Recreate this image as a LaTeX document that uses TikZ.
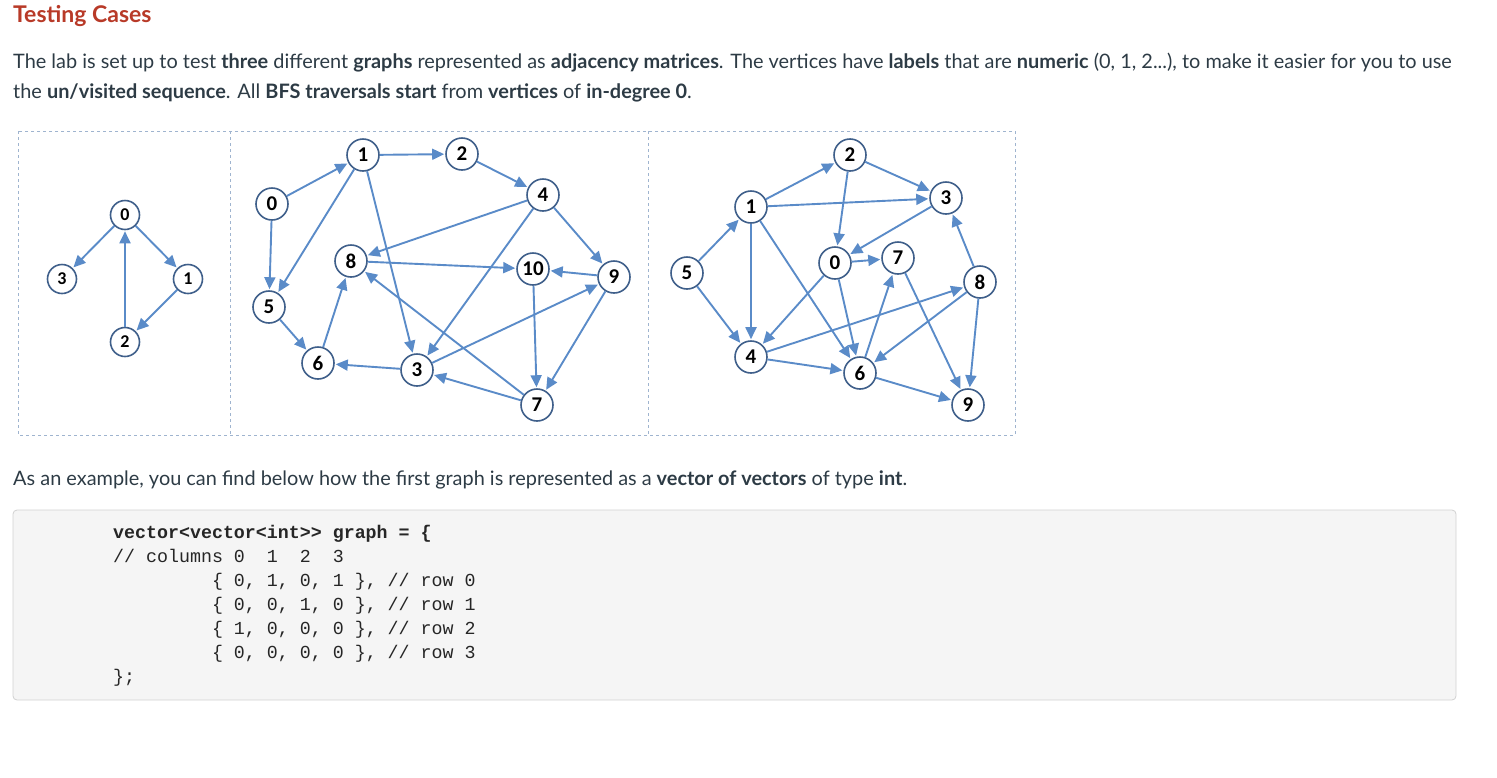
\documentclass[tikz,border=0pt]{standalone}
\usepackage{fontspec}
\setmainfont{Lato}
\newfontfamily\nodefont{Carlito}
\setmonofont{Liberation Mono}
\usetikzlibrary{arrows.meta}
\definecolor{titlered}{HTML}{B83A28}
\definecolor{txt}{HTML}{2D3B45}
\definecolor{ncol}{HTML}{3F5F8A}
\definecolor{ecol}{HTML}{5A8BC8}
\definecolor{framec}{HTML}{9FB4CF}
\begin{document}
\begin{tikzpicture}[x=1pt,y=-1pt,
  vtx/.style={circle,draw=ncol,line width=1.6pt,fill=white,minimum size=32pt,inner sep=0pt,font=\nodefont\bfseries\fontsize{21}{21}\selectfont,text=black},
  vtxs/.style={vtx,minimum size=29pt,font=\nodefont\bfseries\fontsize{18}{18}\selectfont},
  ed/.style={draw=ecol,line width=1.9pt,-{Triangle[length=12pt,width=11pt]},shorten >=1pt},
  body/.style={anchor=base west,inner sep=0pt,text=txt,font=\fontsize{19.9}{20}\selectfont},
  code/.style={anchor=base west,inner sep=0pt,text=black!85,font=\ttfamily\fontsize{18.3}{18}\selectfont}]
\useasboundingbox (0,0) rectangle (1497,777);
\node[anchor=base west,inner sep=0pt,text=titlered,font=\bfseries\fontsize{23}{23}\selectfont] (title) at (13,22) {Testing Cases};
\node[body] (l1) at (13,68) {The lab is set up to test \textbf{three} different \textbf{graphs} represented as \textbf{adjacency matrices}. The vertices have \textbf{labels} that are \textbf{numeric} (0, 1, 2...), to make it easier for you to use};
\node[body] (l2) at (13,98) {the \textbf{un/visited sequence}. All \textbf{BFS traversals start} from \textbf{vertices} of \textbf{in-degree 0}.};
% frame
\draw[framec,dashed,line width=0.8pt] (18,131) rectangle (1015,435);
\draw[framec,dashed,line width=0.8pt] (230,131) -- (230,435);
\draw[framec,dashed,line width=0.8pt] (648,131) -- (648,435);
% graph A
\node[vtxs] (a0) at (125,215) {0};
\node[vtxs] (a3) at (62,279) {3};
\node[vtxs] (a1) at (188,279) {1};
\node[vtxs] (a2) at (125,342) {2};
\draw[ed] (a0)--(a3); \draw[ed] (a0)--(a1); \draw[ed] (a1)--(a2); \draw[ed] (a2)--(a0);
% graph B
\node[vtx] (b0) at (272,204) {0};
\node[vtx] (b1) at (363,155) {1};
\node[vtx] (b2) at (462,154) {2};
\node[vtx] (b4) at (543,195) {4};
\node[vtx] (b8) at (351,261) {8};
\node[vtx] (b10) at (533,269) {10};
\node[vtx] (b9) at (614,277) {9};
\node[vtx] (b5) at (269,307) {5};
\node[vtx] (b6) at (318,363) {6};
\node[vtx] (b3) at (417,370) {3};
\node[vtx] (b7) at (537,405) {7};
\foreach \a/\b in {0/1,0/5,1/2,1/5,1/3,2/4,4/8,4/3,4/9,8/10,9/10,10/7,9/7,3/9,3/6,5/6,6/8,7/8,7/3}
  \draw[ed] (b\a)--(b\b);
% graph C
\node[vtx] (c2) at (850,155) {2};
\node[vtx] (c1) at (751,207) {1};
\node[vtx] (c3) at (946,198) {3};
\node[vtx] (c5) at (687,273) {5};
\node[vtx] (c0) at (835,263) {0};
\node[vtx] (c7) at (898,258) {7};
\node[vtx] (c8) at (980,282) {8};
\node[vtx] (c4) at (751,357) {4};
\node[vtx] (c6) at (860,373) {6};
\node[vtx] (c9) at (968,405) {9};
\foreach \a/\b in {5/1,5/4,1/2,1/3,1/4,1/6,2/3,2/0,3/0,0/7,0/4,0/6,6/7,7/9,8/3,8/6,8/9,4/8,4/6,6/9}
  \draw[ed] (c\a)--(c\b);
\node[body] (l3) at (13,485) {As an example, you can find below how the first graph is represented as a \textbf{vector of vectors} of type \textbf{int}.};
% code box
\draw[draw=black!18,fill=black!4,rounded corners=4pt,line width=0.8pt] (13,510) rectangle (1456,700);
\node[code,font=\ttfamily\bfseries\fontsize{18.3}{18}\selectfont] (k1) at (113,538) {vector<vector<int>> graph = \{};
\node[code] (k2) at (113,562) {// columns 0~~1~~2~~3};
\node[code] (k3) at (113,586) {\hspace*{9\fontcharwd\font`0}\{ 0, 1, 0, 1 \}, // row 0};
\node[code] (k4) at (113,610) {\hspace*{9\fontcharwd\font`0}\{ 0, 0, 1, 0 \}, // row 1};
\node[code] (k5) at (113,634) {\hspace*{9\fontcharwd\font`0}\{ 1, 0, 0, 0 \}, // row 2};
\node[code] (k6) at (113,658) {\hspace*{9\fontcharwd\font`0}\{ 0, 0, 0, 0 \}, // row 3};
\node[code] (k7) at (113,682) {\};};
\end{tikzpicture}
\end{document}
